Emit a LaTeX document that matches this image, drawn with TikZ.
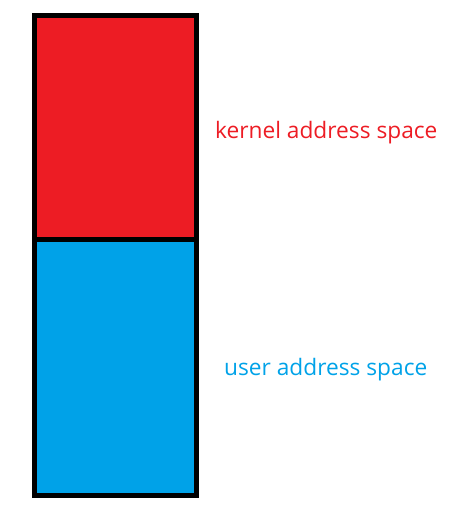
\documentclass[tikz,border=0pt]{standalone}
\usepackage{fontspec}
\setmainfont{Open Sans}
\usepackage{tikz}
\definecolor{kernred}{RGB}{237,28,36}
\definecolor{userblue}{RGB}{0,162,232}
\usetikzlibrary{positioning}
\tikzset{space label/.style={anchor=west,inner sep=0pt,font=\fontsize{22.7}{26}\selectfont}}

\begin{document}
\begin{tikzpicture}[x=1pt,y=-1pt]
      \useasboundingbox (0,0) rectangle (456,510);
      \fill[kernred] (34.5,15.5) rectangle (196.5,239.5);
      \fill[userblue] (34.5,239.5) rectangle (196.5,495.5);
      \draw[black,line width=5pt] (34.5,15.5) rectangle (196.5,495.5);
      \draw[black,line width=5pt] (34.5,239.5) -- (196.5,239.5);
      \node[space label,text=kernred] (kernel) at (215,133) {kernel address space};
      \node[space label,text=userblue] (user) at (224,370) {user address space};
\end{tikzpicture}
\end{document}
